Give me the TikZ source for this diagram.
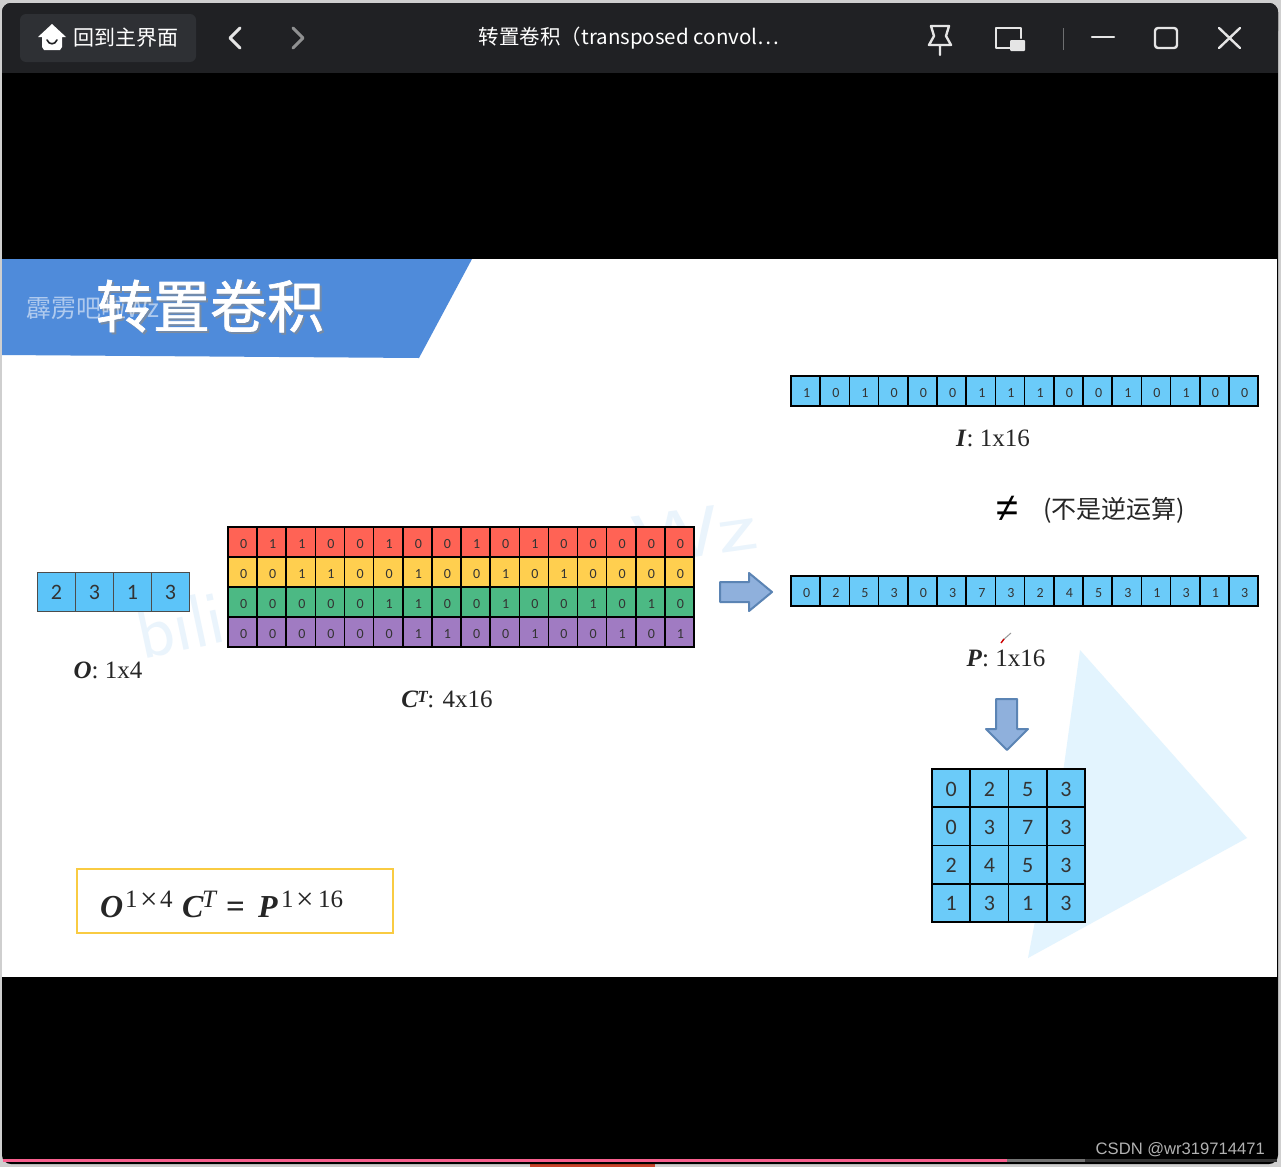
\documentclass[tikz,border=0pt]{standalone}
\usepackage{fontspec}
\setmainfont{Liberation Serif}
\newfontfamily\cjk{Noto Sans CJK SC}
\newfontfamily\cjkt{Noto Sans CJK SC}[FakeBold=1.2]
\newfontfamily\cellf{Carlito}
\newfontfamily\csdnf{Liberation Sans}
\definecolor{barbg}{HTML}{202124}
\definecolor{btnbg}{HTML}{2E3034}
\definecolor{banner}{HTML}{4F8BDA}
\definecolor{cellblue}{HTML}{6BCBF9}
\definecolor{cellblueb}{HTML}{5CC4F9}
\definecolor{cred}{HTML}{FF6355}
\definecolor{cyellow}{HTML}{FFCF4F}
\definecolor{cgreen}{HTML}{4CB984}
\definecolor{cpurple}{HTML}{A07BC2}
\definecolor{arrowfill}{HTML}{8FB0DC}
\definecolor{arrowline}{HTML}{5B84B4}
\definecolor{tri}{HTML}{E3F4FE}
\definecolor{wm}{HTML}{EAF4FC}
\definecolor{gold}{HTML}{F9CB42}
\definecolor{outer}{HTML}{CFCFCF}
\definecolor{progress}{HTML}{F8608F}
\definecolor{under}{HTML}{C8432A}
\tikzset{
  cellbase/.style={draw=black,line width=1.5pt,inner sep=0pt,text=black!80,font=\cellf\fontsize{14}{14}\selectfont},
  cell16/.style={cellbase,minimum width=29.2pt,minimum height=30pt,text height=12pt,text depth=0pt,execute at begin node=\kern2pt},
  cell4/.style={cellbase,minimum width=38.2pt,minimum height=38.2pt,text height=16pt,text depth=0pt,font=\cellf\fontsize{22}{22}\selectfont},
  cellO/.style={cell4,fill=cellblueb,line width=1pt,draw=black!70,minimum height=39pt},
  lab/.style={inner sep=0pt,font=\fontsize{25}{25}\selectfont,text=black!85},
  ui/.style={inner sep=0pt,text=white,font=\cjk\fontsize{21}{21}\selectfont},
  blockarrow/.style={draw=arrowline,fill=arrowfill,line width=2pt,line join=round},
  icon/.style={draw=white!90!black,line width=2.4pt,line join=round,line cap=round},
  fbig/.style={inner sep=0pt,anchor=base west,text=black!85,font=\bfseries\itshape\fontsize{32}{32}\selectfont},
  fsup/.style={inner sep=0pt,anchor=base west,text=black!85,font=\fontsize{25}{25}\selectfont},
  ftimes/.style={fsup,font=\fontsize{31}{31}\selectfont}
}
\begin{document}
\begin{tikzpicture}[x=1pt,y=-1pt]
\useasboundingbox (0,0) rectangle (1281,1167);
\fill[outer] (0,0) rectangle (1281,1167);
\fill[under] (530,1160) rectangle (655,1167);
% window
\fill[black,rounded corners=9pt] (2,3) rectangle (1278,1164);
\fill[barbg,rounded corners=9pt] (2,3) rectangle (1278,40);
\fill[barbg] (2,25) rectangle (1278,73);
% title bar
\fill[btnbg,rounded corners=6pt] (20,14) rectangle (196,62);
\fill[white] (52,24) -- (66,37) -- (62,37) -- (62,47) -- (60,50) -- (44,50) -- (42,47) -- (42,37) -- (38,37) -- cycle;
\draw[barbg,line width=1.6pt,line cap=round] (47,40) .. controls (49,45) and (55,45) .. (57,40);
\node[ui,anchor=west] (back) at (73,38) {回到主界面};
\draw[icon,line width=3pt] (240,28) -- (230,38) -- (240,48);
\draw[icon,draw=white!50!barbg,line width=3pt] (293,28) -- (303,38) -- (293,48);
\node[ui,font=\cjk\fontsize{20.5}{21}\selectfont] (wintitle) at (629,38) {转置卷积（transposed convol…};
\draw[icon] (931,26) -- (949,26) -- (946,36) -- (951,45) -- (929,45) -- (934,36) -- cycle (940,45) -- (940,55);
\draw[icon] (1012,48) -- (996,48) -- (996,28) -- (1021,28) -- (1021,38);
\fill[white!90!black,rounded corners=1pt] (1010,40) rectangle (1025,51);
\draw[white!35!barbg,line width=1pt] (1063,28) -- (1063,50);
\draw[icon] (1092,37) -- (1114,37);
\draw[icon,rounded corners=3pt] (1155,28) rectangle (1177,48);
\draw[icon] (1219,28) -- (1240,48) (1240,28) -- (1219,48);
% slide
\fill[white] (2,259) rectangle (1277,977);
\fill[tri] (1080,650) -- (1247,838) -- (1028,958) -- (1062,780) -- cycle;
\fill[banner] (2,259) -- (472,259) -- (419,358) -- (2,355) -- cycle;
\node[inner sep=0pt,text=black!45,opacity=.6,font=\cjkt\fontsize{57}{57}\selectfont] (shadow) at (212,308) {转置卷积};
\node[inner sep=0pt,text=white,font=\cjkt\fontsize{57}{57}\selectfont] (maintitle) at (210,306) {转置卷积};
\node[inner sep=0pt,anchor=west,text=white,opacity=.55,font=\cjk\fontsize{25}{25}\selectfont] (wmk1) at (26,308) {霹雳吧啦Wz};
\node[inner sep=0pt,rotate=12,text=wm,font=\fontsize{76}{76}\selectfont\sffamily] (wmk2) at (180,625) {bili};
\node[inner sep=0pt,rotate=8,xscale=1.4,text=wm,font=\fontsize{70}{70}\selectfont\sffamily] (wmk3) at (695,533) {Wz};
% O vector
\foreach \v [count=\i] in {2,3,1,3}
  \node[cellO] (o\i) at ({37.5+(\i-.5)*38},591.5) {\v};
% C matrix
\foreach \r/\col/\vals in {1/cred/{0,1,1,0,0,1,0,0,1,0,1,0,0,0,0,0},
                           2/cyellow/{0,0,1,1,0,0,1,0,0,1,0,1,0,0,0,0},
                           3/cgreen/{0,0,0,0,0,1,1,0,0,1,0,0,1,0,1,0},
                           4/cpurple/{0,0,0,0,0,0,1,1,0,0,1,0,0,1,0,1}}
  \foreach \v [count=\i] in \vals
    \node[cell16,fill=\col] (c\r-\i) at ({228+(\i-.5)*29.13},{527+(\r-.5)*30}) {\v};
% I vector
\foreach \v [count=\i] in {1,0,1,0,0,0,1,1,1,0,0,1,0,1,0,0}
  \node[cell16,fill=cellblue] (i\i) at ({791+(\i-.5)*29.2},391) {\v};
% P vector
\foreach \v [count=\i] in {0,2,5,3,0,3,7,3,2,4,5,3,1,3,1,3}
  \node[cell16,fill=cellblue] (p\i) at ({791+(\i-.5)*29.2},591) {\v};
% P matrix
\foreach \r/\vals in {1/{0,2,5,3},2/{0,3,7,3},3/{2,4,5,3},4/{1,3,1,3}}
  \foreach \v [count=\i] in \vals
    \node[cell4,fill=cellblue] (m\r-\i) at ({932+(\i-.5)*38.25},{769+(\r-.5)*38.25}) {\v};
% labels
\node[lab] (lo) at (108,670) {\textbf{\textit{O}}: 1x4};
\node[lab] (lc) at (447,699) {\textbf{\textit{C}}\kern-1pt\raisebox{5pt}[0pt][0pt]{\fontsize{17}{17}\selectfont\textbf{\textit{T}}}\kern-1pt: 4x16};
\node[lab] (li) at (993,438) {\textbf{\textit{I}}: 1x16};
\node[lab] (lp) at (1006,658) {\textbf{\textit{P}}: 1x16};
\node[inner sep=0pt,font=\csdnf\fontsize{40}{40}\selectfont,text=black] (neq) at (1007,509) {≠};
\node[lab,font=\cjk\fontsize{25}{25}\selectfont,anchor=center] (notinv) at (1114,510) {(不是逆运算)};
% pencil mark
\draw[black!40,line width=1pt] (1003,640) -- (1011,633);
\draw[red!80!black,line width=1.4pt] (1001,643) -- (1004,639);
% arrows
\draw[blockarrow] (720,582) -- (749,582) -- (749,573) -- (772,592) -- (749,611) -- (749,602) -- (720,602) -- cycle;
\draw[blockarrow] (996,699) -- (1017,699) -- (1017,729) -- (1028,729) -- (1007,750) -- (986,729) -- (996,729) -- cycle;
% formula
\node[draw=gold,line width=2.5pt,minimum width=316pt,minimum height=64pt,inner sep=0pt] (formbox) at (235,901) {};
\node[fbig] (fo) at (100,917) {O};
\node[fsup] (fo1) at (125,907) {1};
\node[ftimes] (fox) at (140,909) {×};
\node[fsup] (fo2) at (160,907) {4};
\node[fbig] (fc) at (182,917) {C};
\node[fsup,font=\itshape\fontsize{25}{25}\selectfont] (ft) at (202,907) {T};
\node[fbig,font=\bfseries\fontsize{33}{33}\selectfont] (feq) at (226,917) {=};
\node[fbig] (fp) at (258,917) {P};
\node[fsup] (fp1) at (281,907) {1};
\node[ftimes] (fpx) at (296,909) {×};
\node[fsup] (fp2) at (318,907) {16};
% bottom
\fill[black!55] (1007,1159) rectangle (1085,1162);
\fill[black!80] (1085,1159) rectangle (1277,1162);
\fill[progress] (3,1159) rectangle (1007,1162);
\node[inner sep=0pt,anchor=east,text=black!30,font=\csdnf\fontsize{16.6}{17}\selectfont] (csdn) at (1265,1150) {CSDN @wr319714471};
\end{tikzpicture}
\end{document}
